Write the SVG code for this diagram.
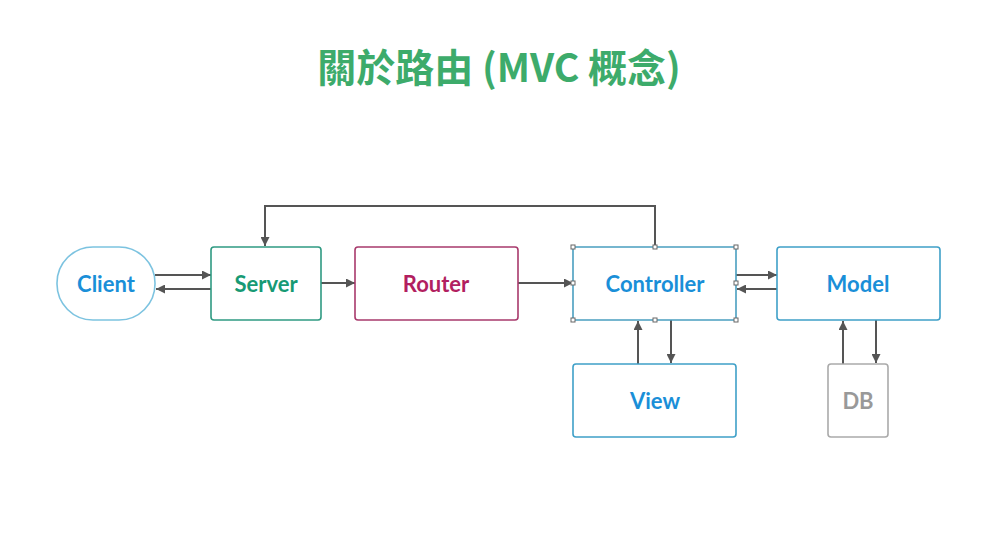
<svg xmlns="http://www.w3.org/2000/svg" width="996" height="557" viewBox="0 0 996 557">
<defs>
<marker id="a" viewBox="0 0 10 10" refX="10" refY="5" markerWidth="9" markerHeight="9" markerUnits="userSpaceOnUse" orient="auto"><path d="M0,0L10,5L0,10z" fill="#555"/></marker>
<style>
.n{fill:#fff;stroke-width:1.6}
.t{font-family:Lato,"Noto Sans",sans-serif;font-weight:bold;font-size:22px;text-anchor:middle;dominant-baseline:central}
.c line,.c path{stroke:#555;stroke-width:2;fill:none;marker-end:url(#a)}
.h{fill:#fff;stroke:#666;stroke-width:1}
</style>
</defs>
<rect width="996" height="557" fill="#fff"/>
<text x="499" y="65" font-family="'Noto Sans CJK TC',Lato,sans-serif" font-weight="bold" font-size="39" fill="#3dab6b" text-anchor="middle" dominant-baseline="central">關於路由 (MVC 概念)</text>
<g class="c">
<line x1="155" y1="275" x2="211" y2="275"/>
<line x1="211" y1="289" x2="156" y2="289"/>
<line x1="321" y1="283" x2="355" y2="283"/>
<line x1="518" y1="283" x2="573" y2="283"/>
<line x1="736" y1="275" x2="777" y2="275"/>
<line x1="777" y1="289" x2="737" y2="289"/>
<path d="M655,247V206H265V246"/>
<line x1="638" y1="364" x2="638" y2="321"/>
<line x1="671" y1="320" x2="671" y2="363"/>
<line x1="843" y1="364" x2="843" y2="321"/>
<line x1="876" y1="320" x2="876" y2="363"/>
</g>
<g id="client"><rect class="n" x="57" y="247" width="98" height="73" rx="36" stroke="#7cc3e0"/><text class="t" x="106" y="283" fill="#1a8fd8">Client</text></g>
<g id="server"><rect class="n" x="211" y="247" width="110" height="73" rx="3" stroke="#2f9a82"/><text class="t" x="266" y="283" fill="#179a74">Server</text></g>
<g id="router"><rect class="n" x="355" y="247" width="163" height="73" rx="3" stroke="#a83a6c"/><text class="t" x="436" y="283" fill="#b21f60">Router</text></g>
<g id="controller"><rect class="n" x="573" y="247" width="163" height="73" rx="2" stroke="#4a9fc0"/><text class="t" x="655" y="283" fill="#1a8fd8">Controller</text>
<rect class="h" x="571" y="245" width="4" height="4"/><rect class="h" x="653" y="245" width="4" height="4"/><rect class="h" x="734" y="245" width="4" height="4"/><rect class="h" x="571" y="281" width="4" height="4"/><rect class="h" x="734" y="281" width="4" height="4"/><rect class="h" x="571" y="318" width="4" height="4"/><rect class="h" x="653" y="318" width="4" height="4"/><rect class="h" x="734" y="318" width="4" height="4"/></g>
<g id="model"><rect class="n" x="777" y="247" width="163" height="73" rx="3" stroke="#3fa0c8"/><text class="t" x="858" y="283" fill="#1a8fd8">Model</text></g>
<g id="view"><rect class="n" x="573" y="364" width="163" height="73" rx="3" stroke="#3fa0c8"/><text class="t" x="655" y="400" fill="#1a8fd8">View</text></g>
<g id="db"><rect class="n" x="828" y="364" width="60" height="73" rx="3" stroke="#aaa"/><text class="t" x="858" y="400" fill="#999">DB</text></g>
</svg>
